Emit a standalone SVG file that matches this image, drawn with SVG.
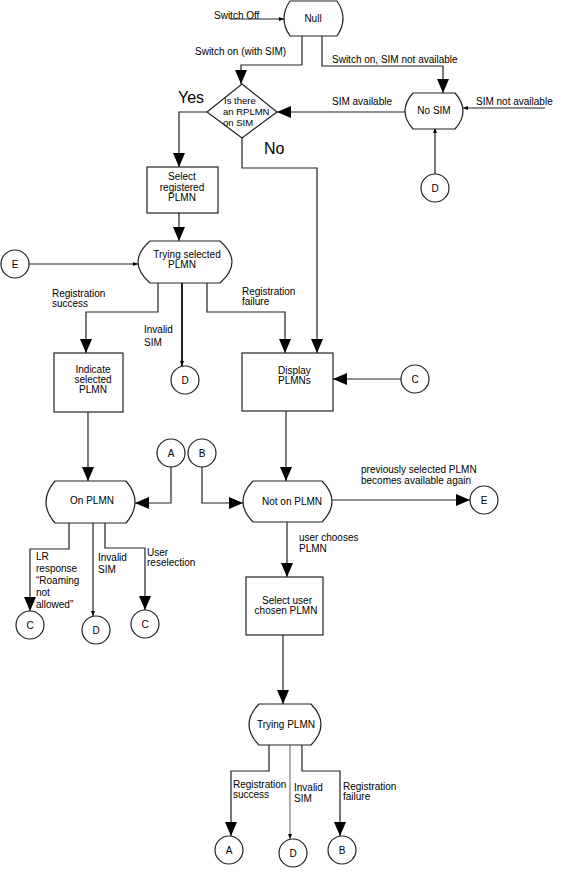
<svg xmlns="http://www.w3.org/2000/svg" width="567" height="873" viewBox="0 0 567 873">
<style>
text{font-family:"Liberation Sans",Arial,sans-serif;font-size:10px;fill:#000}
.c{text-anchor:middle}
.big{font-size:16px}
.sm{font-size:9.5px}
.sh{fill:#fff;stroke:#222;stroke-width:1.2}
.ln{fill:none;stroke:#222;stroke-width:1.2}
.ba{marker-end:url(#big)}
.sa{marker-end:url(#small)}
</style>
<defs>
<marker id="big" markerUnits="userSpaceOnUse" markerWidth="14" markerHeight="12" refX="14" refY="6" orient="auto"><path d="M0,0 L14,6 L0,12 Z" fill="#000"/></marker>
<marker id="small" markerUnits="userSpaceOnUse" markerWidth="5" markerHeight="4" refX="5" refY="2" orient="auto"><path d="M0,0 L5,2 L0,4 Z" fill="#000"/></marker>
</defs>
<rect width="567" height="873" fill="#fff"/>
<g id="connectors">
<path class="ln sa" d="M230,19 H284"/>
<path class="ln ba" d="M302,36 V65 H241 V84"/>
<path class="ln ba" d="M322,36 V66 H443 V93"/>
<path class="ln ba" d="M405,112 H277"/>
<path class="ln sa" d="M545,108 H463"/>
<path class="ln sa" d="M435,174 V128"/>
<path class="ln ba" d="M207,112 H179 V167"/>
<path class="ln ba" d="M242,138 V168 H317 V353"/>
<path class="ln ba" d="M179,213 V241"/>
<path class="ln sa" d="M29,264 H138"/>
<path class="ln ba" d="M158,283 V312 H86 V353"/>
<path class="ln sa" d="M182,283 V366" style="stroke-width:2"/>
<path class="ln ba" d="M207,283 V312 H285 V353"/>
<path class="ln ba" d="M401,379 H333"/>
<path class="ln ba" d="M88,412 V481"/>
<path class="ln ba" d="M286,411 V481"/>
<path class="ln ba" d="M171,467 V503 H135"/>
<path class="ln ba" d="M202,467 V503 H243"/>
<path class="ln ba" d="M332,500 H470"/>
<path class="ln ba" d="M287,522 V577"/>
<path class="ln ba" d="M283,635 V704"/>
<path class="ln ba" d="M269,745 V771 H231 V836"/>
<path class="ln sa" d="M290,745 V839" style="stroke:#777"/>
<path class="ln ba" d="M302,745 V771 H340 V836"/>
<path class="ln ba" d="M69,523 V549 H30 V611"/>
<path class="ln sa" d="M93,523 V616"/>
<path class="ln ba" d="M105,523 V548 H145 V610"/>
</g>
<g id="labels">
<text x="214" y="19">Switch Off</text>
<text x="195" y="55">Switch on (with SIM)</text>
<text x="332" y="63">Switch on, SIM not available</text>
<text x="332" y="105">SIM  available</text>
<text x="476" y="105">SIM  not available</text>
<text class="big" x="178" y="103">Yes</text>
<text class="big" x="264" y="154">No</text>
<text x="52" y="297">Registration</text>
<text x="52" y="307">success</text>
<text x="144" y="333">Invalid</text>
<text x="144" y="346">SIM</text>
<text x="242" y="295">Registration</text>
<text x="242" y="305">failure</text>
<text x="361" y="473">previously selected PLMN</text>
<text x="361" y="484">becomes available again</text>
<text x="299" y="541">user chooses</text>
<text x="299" y="551.5">PLMN</text>
<text x="36" y="560">LR</text>
<text x="36" y="572">response</text>
<text x="36" y="584">“Roaming</text>
<text x="36" y="596">not</text>
<text x="36" y="608">allowed”</text>
<text x="98" y="561">Invalid</text>
<text x="98" y="573">SIM</text>
<text x="147" y="556">User</text>
<text x="147" y="566">reselection</text>
<text x="233" y="788">Registration</text>
<text x="233" y="798">success</text>
<text x="294" y="791">Invalid</text>
<text x="294" y="802">SIM</text>
<text x="343" y="790">Registration</text>
<text x="343" y="800">failure</text>
</g>
<g id="null"><path class="sh" d="M290,1 H337 Q349,18.5 337,36 H290 Q278,18.5 290,1 Z"/><text class="c" x="313" y="22">Null</text></g>
<g id="decision"><path class="sh" d="M242,84 L277,112 L242,138 L207,112 Z"/><text class="sm" x="224" y="104">Is there</text><text class="sm" x="223" y="115">an RPLMN</text><text class="sm" x="223" y="126">on SIM</text></g>
<g id="nosim"><path class="sh" d="M413,93 H455 Q471,111 455,129 H413 Q397,111 413,93 Z"/><text class="c" x="434" y="114">No SIM</text></g>
<g id="d1"><circle class="sh" cx="435" cy="188" r="14"/><text class="c" x="435" y="192">D</text></g>
<g id="selreg"><rect class="sh" x="147" y="167" width="71" height="46"/><text class="c" x="182" y="180">Select</text><text class="c" x="182" y="190.5">registered</text><text class="c" x="182" y="201">PLMN</text></g>
<g id="trysel"><path class="sh" d="M150,241 H220 Q244,262 220,283 H150 Q126,262 150,241 Z"/><text class="c" x="187" y="258">Trying selected</text><text class="c" x="182" y="268">PLMN</text></g>
<g id="e1"><circle class="sh" cx="15" cy="264" r="14"/><text class="c" x="15" y="268">E</text></g>
<g id="indicate"><rect class="sh" x="54" y="353" width="69" height="59"/><text class="c" x="93" y="373">Indicate</text><text class="c" x="93" y="383">selected</text><text class="c" x="93" y="393">PLMN</text></g>
<g id="d2"><circle class="sh" cx="185" cy="380" r="14"/><text class="c" x="185" y="384">D</text></g>
<g id="display"><rect class="sh" x="242" y="353" width="91" height="58"/><text x="278" y="374">Display</text><text x="278" y="384">PLMNs</text></g>
<g id="c1"><circle class="sh" cx="415" cy="379" r="14"/><text class="c" x="415" y="383">C</text></g>
<g id="a1"><circle class="sh" cx="171" cy="453" r="14"/><text class="c" x="171" y="457">A</text></g>
<g id="b1"><circle class="sh" cx="202" cy="453" r="14"/><text class="c" x="202" y="457">B</text></g>
<g id="onplmn"><path class="sh" d="M55,481 H126 Q144,502 126,523 H55 Q37,502 55,481 Z"/><text class="c" x="92" y="504">On PLMN</text></g>
<g id="notonplmn"><path class="sh" d="M253,481 H322 Q342,501.5 322,522 H253 Q233,501.5 253,481 Z"/><text class="c" x="292" y="505">Not on PLMN</text></g>
<g id="e2"><circle class="sh" cx="484" cy="500" r="14"/><text class="c" x="484" y="504">E</text></g>
<g id="seluser"><rect class="sh" x="246" y="577" width="77" height="58"/><text class="c" x="287" y="604">Select user</text><text class="c" x="286" y="614">chosen PLMN</text></g>
<g id="c2"><circle class="sh" cx="30" cy="625" r="14"/><text class="c" x="30" y="629">C</text></g>
<g id="d3"><circle class="sh" cx="96" cy="630" r="14"/><text class="c" x="96" y="634">D</text></g>
<g id="c3"><circle class="sh" cx="145" cy="624" r="14"/><text class="c" x="145" y="628">C</text></g>
<g id="tryplmn"><path class="sh" d="M259,704 H311 Q331,724.5 311,745 H259 Q239,724.5 259,704 Z"/><text class="c" x="286" y="728">Trying PLMN</text></g>
<g id="a2"><circle class="sh" cx="229" cy="850" r="14"/><text class="c" x="229" y="854">A</text></g>
<g id="d4"><circle class="sh" cx="293" cy="853" r="14"/><text class="c" x="293" y="857">D</text></g>
<g id="b2"><circle class="sh" cx="342" cy="850" r="14"/><text class="c" x="342" y="854">B</text></g>
</svg>
